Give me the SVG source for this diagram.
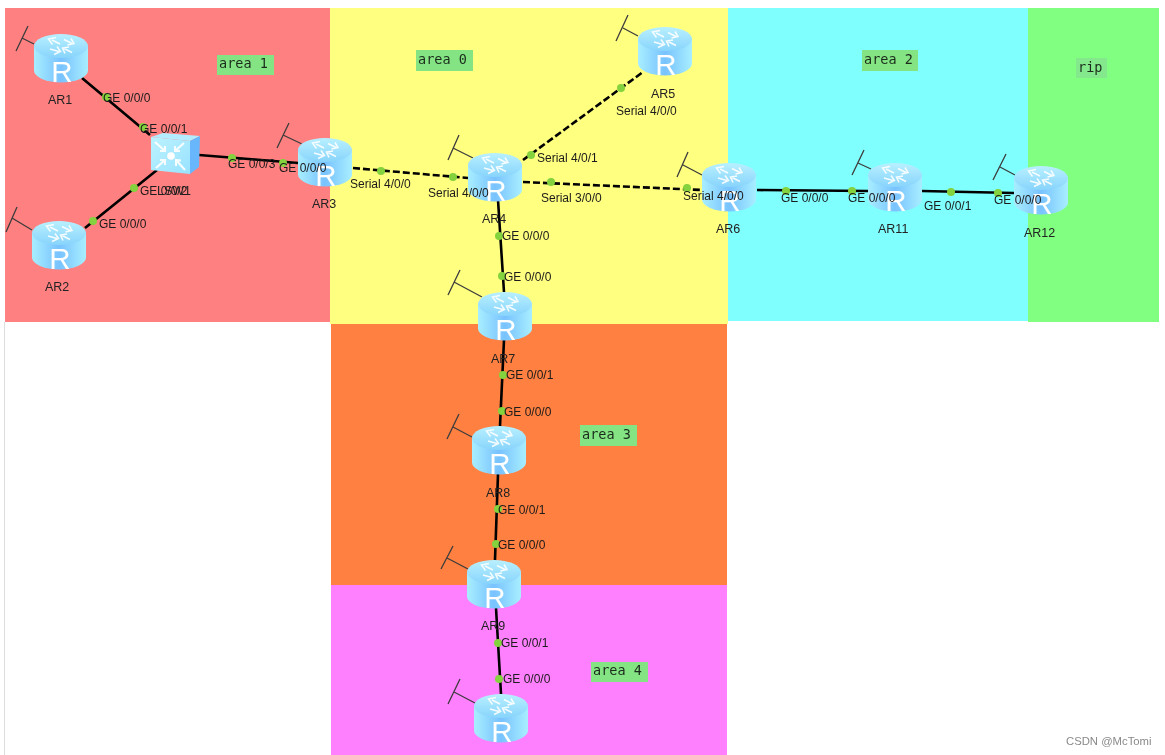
<svg xmlns="http://www.w3.org/2000/svg" width="1165" height="755" viewBox="0 0 1165 755">
<style>
.l{font:12px "Liberation Sans",Arial,sans-serif;fill:#1a1a1a}
.n{font:12.5px "Liberation Sans",Arial,sans-serif;fill:#222}
.r{font:29.5px "Liberation Sans",Arial,sans-serif;fill:#fff;text-anchor:middle}
.a{font:13.5px "DejaVu Sans Mono","Liberation Mono",monospace;fill:#1c2c1c}
.b{fill:#84e484}
.s{fill:none;stroke:#000;stroke-width:2.6}
.d{fill:none;stroke:#000;stroke-width:2.6;stroke-dasharray:7 3}
.p{fill:#84d23c}
.w{fill:none;stroke:#fff;stroke-width:1.5;stroke-opacity:.9}
.t{fill:none;stroke:#3c3c3c;stroke-width:1.3}
</style>
<defs>
<filter id="soft" filterUnits="userSpaceOnUse" x="0" y="0" width="1165" height="755"><feGaussianBlur stdDeviation="0.5"/></filter>
<linearGradient id="side" x1="0" x2="1" y1="0" y2="0"><stop offset="0" stop-color="#a8eeff"/><stop offset=".5" stop-color="#78c2ff"/><stop offset="1" stop-color="#a8eeff"/></linearGradient>
<linearGradient id="top" x1="0" x2="0" y1="0" y2="1"><stop offset="0" stop-color="#b8f0ff"/><stop offset="1" stop-color="#88d4fc"/></linearGradient>
<linearGradient id="front" x1="0" x2="1" y1="0" y2="1"><stop offset="0" stop-color="#bcf2ff"/><stop offset="1" stop-color="#98e2ff"/></linearGradient>
<g id="router">
<path d="M0 12V36.500A27 12 0 0 0 54 36.500V12Z" fill="url(#side)"/>
<ellipse cx="27" cy="12" rx="27" ry="12" fill="url(#top)"/>
<path class="w" d="M26 10L18 6M18.500 10.500L14.500 5L22 3.500M30 5.500L38 9.500M33.500 11L40 9.500L37 4.500M16 15L25 17.500M20 20.500L26.500 17.500L23 12.500M30 14.500L38 18.500M31 19.500L28.500 14L35 13"/>
</g>
</defs>
<g filter="url(#soft)">
<g id="areas">
<rect x="5" y="8" width="325" height="314" fill="#ff8080"/>
<rect x="330" y="8" width="398" height="316" fill="#ffff80"/>
<rect x="728" y="8" width="300" height="313" fill="#80ffff"/>
<rect x="1028" y="8" width="131" height="314" fill="#80ff80"/>
<rect x="331" y="324" width="396" height="261" fill="#ff8040"/>
<rect x="331" y="585" width="396" height="170" fill="#ff80ff"/>
<path d="M4.500 322V755" stroke="#ddd" stroke-width="1"/>
<rect class="b" x="217" y="55" width="57" height="20"/><text class="a" x="219" y="68">area 1</text>
<rect class="b" x="416" y="50" width="57" height="21"/><text class="a" x="418" y="64">area 0</text>
<rect class="b" x="862" y="50" width="56" height="21"/><text class="a" x="864" y="64">area 2</text>
<rect x="1076" y="58" width="31" height="20" fill="#84e88c"/><text class="a" x="1078" y="72">rip</text>
<rect class="b" x="580" y="425" width="57" height="21"/><text class="a" x="582" y="439">area 3</text>
<rect class="b" x="591" y="662" width="57" height="20"/><text class="a" x="593" y="675">area 4</text>
</g>
<g id="connectors">
<path class="s" d="M82 78L150 135M157 170L85 228M199 155L298 163M498 200L504 292M757 190L868 191M922 191L1014 193M504 340L500 426M498 474L495 560M496 608L501 694"/>
<path class="d" d="M353 168L468 178M523 160L643 72M523 182L702 190"/>
<g class="p">
<circle cx="106" cy="97" r="4"/><circle cx="143" cy="127" r="4"/><circle cx="134" cy="188" r="4"/><circle cx="93" cy="221" r="4"/>
<circle cx="232" cy="158" r="4"/><circle cx="283" cy="163" r="4"/><circle cx="381" cy="171" r="4"/><circle cx="453" cy="177" r="4"/>
<circle cx="531" cy="155" r="4"/><circle cx="621" cy="88" r="4"/><circle cx="551" cy="182" r="4"/><circle cx="687" cy="188" r="4"/>
<circle cx="499" cy="236" r="4"/><circle cx="502" cy="276" r="4"/><circle cx="786" cy="191" r="4"/><circle cx="852" cy="191" r="4"/>
<circle cx="951" cy="192" r="4"/><circle cx="998" cy="193" r="4"/><circle cx="503" cy="375" r="4"/><circle cx="502" cy="411" r="4"/>
<circle cx="498" cy="509" r="4"/><circle cx="496" cy="544" r="4"/><circle cx="498" cy="643" r="4"/><circle cx="499" cy="679" r="4"/>
</g>
</g>
<g id="AR1"><path class="t" d="M28 26L16 51M22 38L34 44"/><use href="#router" x="34" y="34"/><text class="r" x="62" y="81.500">R</text><text class="n" x="48" y="104">AR1</text></g>
<g id="AR2"><path class="t" d="M17 207L6 232M12 218L32 230"/><use href="#router" x="32" y="221"/><text class="r" x="60" y="268.500">R</text><text class="n" x="45" y="291">AR2</text></g>
<g id="AR3"><path class="t" d="M289 123L277 148M283 135L302 144"/><use href="#router" x="298" y="138"/><text class="r" x="326" y="185.500">R</text><text class="n" x="312" y="208">AR3</text></g>
<g id="AR4"><path class="t" d="M459 135L448 160M453 148L473 158"/><use href="#router" x="468" y="153"/><text class="r" x="496" y="200.500">R</text><text class="n" x="482" y="223">AR4</text></g>
<g id="AR5"><path class="t" d="M628 15L616 41M623 28L638 36"/><use href="#router" x="638" y="27"/><text class="r" x="666" y="74.500">R</text><text class="n" x="651" y="98">AR5</text></g>
<g id="AR6"><path class="t" d="M688 152L677 177M683 165L702 175"/><use href="#router" x="702" y="163"/><text class="r" x="730" y="210.500">R</text><text class="n" x="716" y="233">AR6</text></g>
<g id="AR7"><path class="t" d="M460 270L448 295M454 282L482 297"/><use href="#router" x="478" y="292"/><text class="r" x="506" y="339.500">R</text><text class="n" x="491" y="363">AR7</text></g>
<g id="AR8"><path class="t" d="M459 414L447 439M453 427L472 437"/><use href="#router" x="472" y="426"/><text class="r" x="500" y="473.500">R</text><text class="n" x="486" y="497">AR8</text></g>
<g id="AR9"><path class="t" d="M453 546L441 569M447 558L468 569"/><use href="#router" x="467" y="560"/><text class="r" x="495" y="607.500">R</text><text class="n" x="481" y="630">AR9</text></g>
<g id="AR10"><path class="t" d="M460 679L448 704M454 692L475 703"/><use href="#router" x="474" y="694"/><text class="r" x="502" y="741.500">R</text><text class="n" x="487" y="764">AR10</text></g>
<g id="AR11"><path class="t" d="M864 150L852 175M858 163L871 169"/><use href="#router" x="868" y="163"/><text class="r" x="896" y="210.500">R</text><text class="n" x="878" y="233">AR11</text></g>
<g id="AR12"><path class="t" d="M1006 154L993 180M1000 167L1015 175"/><use href="#router" x="1014" y="166"/><text class="r" x="1042" y="213.500">R</text><text class="n" x="1024" y="237">AR12</text></g>
<g id="LSW1">
<path d="M151 137L163 133L200 136L190 141Z" fill="#b4ecff"/>
<path d="M190 141L200 136L199 167L190 174Z" fill="#68b6fc"/>
<path d="M151 137L190 141V174L151 170Z" fill="url(#front)"/>
<circle cx="171" cy="156" r="3.800" fill="#fff"/>
<path class="w" style="stroke-width:2.1" d="M155 142L165 151M165 146V151H160M184 143L175 151M175 146V151H180M156 168L165 160M160 160H165V165M185 170L176 160M181 160.500L176 160V166"/>
<text class="n" x="157" y="195">LSW1</text>
</g>
<g id="interface-labels">
<text class="l" x="103" y="102">GE 0/0/0</text><text class="l" x="140" y="133">GE 0/0/1</text>
<text class="l" x="140" y="195">GE 0/0/2</text><text class="l" x="99" y="228">GE 0/0/0</text>
<text class="l" x="228" y="168">GE 0/0/3</text><text class="l" x="279" y="172">GE 0/0/0</text>
<text class="l" x="350" y="188">Serial 4/0/0</text><text class="l" x="428" y="197">Serial 4/0/0</text>
<text class="l" x="537" y="162">Serial 4/0/1</text><text class="l" x="616" y="115">Serial 4/0/0</text>
<text class="l" x="541" y="202">Serial 3/0/0</text><text class="l" x="683" y="200">Serial 4/0/0</text>
<text class="l" x="502" y="240">GE 0/0/0</text><text class="l" x="504" y="281">GE 0/0/0</text>
<text class="l" x="781" y="202">GE 0/0/0</text><text class="l" x="848" y="202">GE 0/0/0</text>
<text class="l" x="924" y="210">GE 0/0/1</text><text class="l" x="994" y="204">GE 0/0/0</text>
<text class="l" x="506" y="379">GE 0/0/1</text><text class="l" x="504" y="416">GE 0/0/0</text>
<text class="l" x="498" y="514">GE 0/0/1</text><text class="l" x="498" y="549">GE 0/0/0</text>
<text class="l" x="501" y="647">GE 0/0/1</text><text class="l" x="503" y="683">GE 0/0/0</text>
</g>
<text x="1066" y="745" font-family="Liberation Sans, Arial, sans-serif" font-size="11.300" fill="#8a8a8a">CSDN @McTomi</text>
</g>
</svg>
